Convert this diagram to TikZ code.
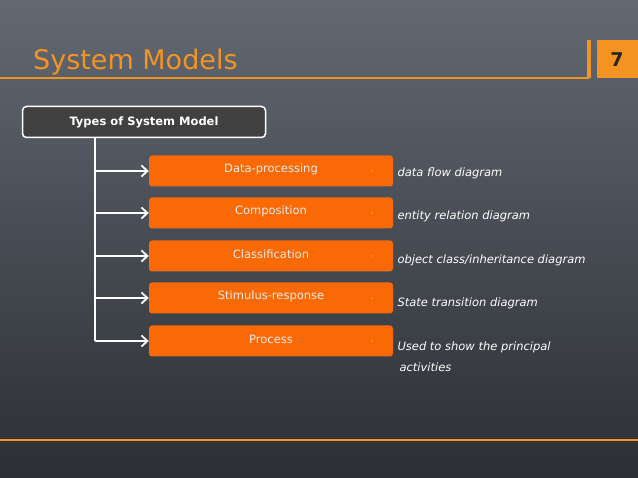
\documentclass[tikz,border=0pt]{standalone}
\usepackage{fontspec}
\setmainfont{DejaVu Sans}
\usetikzlibrary{arrows.meta}
\definecolor{org}{HTML}{F96A06}
\definecolor{torg}{HTML}{F39422}
\definecolor{bgtop}{HTML}{626973}
\definecolor{bgbot}{HTML}{2C2F34}
\tikzset{
 obox/.style={fill=org,rounded corners=3pt,minimum width=244pt,minimum height=31pt,inner sep=0pt},
 otext/.style={text=white!92!black,font=\fontsize{11.5}{13}\selectfont},
 itext/.style={anchor=west,text=white,font=\fontsize{11.5}{21}\selectfont\itshape,align=left},
 arr/.style={white,line width=1.8pt,-{Straight Barb[length=6pt,width=11pt,line width=1.8pt]}},
 dotm/.style={circle,fill=yellow!60!orange,inner sep=0pt,minimum size=1.5pt}
}
\begin{document}
\begin{tikzpicture}[x=1pt,y=-1pt]
\useasboundingbox (0,0) rectangle (638,478);
\shade[top color=bgtop,bottom color=bgbot] (0,0) rectangle (638,478);
\node[anchor=base west,text=torg,font=\fontsize{27}{30}\selectfont,inner sep=0pt] (title) at (33,70) {System Models};
\draw[torg,line width=1.5pt] (0,78) -- (589,78);
\fill[torg] (587,40) rectangle (591,78);
\fill[torg] (597,40) rectangle (638,78);
\node[font=\bfseries\fontsize{19}{22}\selectfont,text=black!85] (num) at (617,60) {7};
\draw[torg,line width=1.2pt] (0,440) -- (638,440);
\node[draw=white,line width=1.5pt,fill=black!75,rounded corners=4pt,minimum width=243pt,minimum height=31pt,inner sep=0pt,text=white,font=\bfseries\fontsize{11.5}{13}\selectfont] (types) at (144,122) {Types of System Model};
\coordinate (trunk) at (95,138);
\coordinate (tend) at (95,341);
\draw[white,line width=1.8pt] (trunk) -- (tend);
\foreach \n/\y/\t/\d/\dy in {a/171/{Data-processing}/{data flow diagram}/173, b/213/{Composition}/{entity relation diagram}/216, c/256/{Classification}/{object class/inheritance diagram}/260, d/298/{Stimulus-response}/{State transition diagram}/303, e/341/{Process}/{Used to show the principal\\\hspace{2pt}activities}/357}{
 \node[obox] (\n) at (271,\y) {};
 \node[otext] (\n t) at (271,\y-1.5) {\t};
 \node[dotm] (\n dot) at (372,\y) {};
 \coordinate (\n s) at (95,\y);
 \draw[arr] (\n s) -- (\n.west);
 \node[itext] (\n d) at (394,\dy) {\d};
}
\end{tikzpicture}
\end{document}
